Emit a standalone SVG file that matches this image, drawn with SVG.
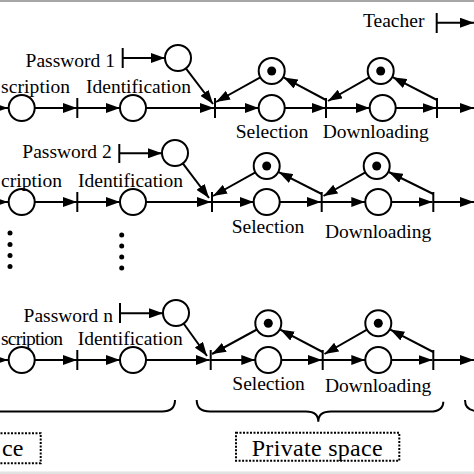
<svg xmlns="http://www.w3.org/2000/svg" width="474" height="474" viewBox="0 0 474 474">
<style>
.ln{stroke:#000;stroke-width:2;fill:none}
.ar{stroke:#000;stroke-width:2;fill:none;marker-end:url(#ah)}
.pl{fill:#fff;stroke:#000;stroke-width:2}
.tr{stroke:#000;stroke-width:2}
.tok{fill:#000}
.t{font-family:"Liberation Serif","Times New Roman","DejaVu Serif",serif;font-size:19.5px;fill:#000}
.big{font-family:"Liberation Serif","Times New Roman","DejaVu Serif",serif;font-size:24px;fill:#000}
.box{fill:none;stroke:#000;stroke-width:2;stroke-dasharray:2 1.5}
</style>
<defs>
<marker id="ah" markerWidth="14" markerHeight="10" refX="14" refY="5" orient="auto" markerUnits="userSpaceOnUse"><path d="M0,0 L14,5 L0,10 z" fill="#000"/></marker>
</defs>
<rect width="474" height="474" fill="#fff"/>
<rect x="0" y="0" width="474" height="2" fill="#a6a6a6"/>
<rect x="0" y="471.5" width="474" height="2.5" fill="#e2e2e2"/>

<g id="connectors">
<path class="ar" d="M436.7,22.7 L474,22.7"/>
<path class="ar" d="M-6,108 L8,108"/>
<path class="ar" d="M34.7,108 L77,108"/>
<path class="ar" d="M77.3,108 L120,108"/>
<path class="ar" d="M146,108 L214,108"/>
<path class="ar" d="M215,108 L258.7,108"/>
<path class="ar" d="M284.7,108 L326,108"/>
<path class="ar" d="M326,108 L369.7,108"/>
<path class="ar" d="M395.7,108 L436.5,108"/>
<path class="ar" d="M437,108 L474,108"/>
<path class="ar" d="M122.7,58 L165,58"/>
<path class="ar" d="M185.9,68.3 L213,104"/>
<path class="ar" d="M260.3,77.3 L216,102"/>
<path class="ar" d="M326,100 L283.6,77.4"/>
<path class="ar" d="M369.4,77.4 L328,101"/>
<path class="ar" d="M437,100 L392.7,77.2"/>
<path class="ar" d="M-6,202 L8,202"/>
<path class="ar" d="M34.7,202 L77,202"/>
<path class="ar" d="M77.3,202 L120,202"/>
<path class="ar" d="M146,202 L211,202"/>
<path class="ar" d="M212,202 L253.7,202"/>
<path class="ar" d="M279.7,202 L321,202"/>
<path class="ar" d="M321.7,202 L365.3,202"/>
<path class="ar" d="M391.3,202 L432.5,202"/>
<path class="ar" d="M433.3,202 L474,202"/>
<path class="ar" d="M119.3,153.3 L162,153.3"/>
<path class="ar" d="M182.8,163.4 L209,198"/>
<path class="ar" d="M255.4,172.3 L213,196"/>
<path class="ar" d="M321.7,194 L278.7,172.1"/>
<path class="ar" d="M365.4,172.4 L323.5,196"/>
<path class="ar" d="M433.3,194 L388.8,172"/>
<path class="ar" d="M-6,360 L8,360"/>
<path class="ar" d="M34.7,360 L77,360"/>
<path class="ar" d="M77.3,360 L120,360"/>
<path class="ar" d="M146,360 L209.7,360"/>
<path class="ar" d="M210.7,360 L255.3,360"/>
<path class="ar" d="M281.3,360 L322,360"/>
<path class="ar" d="M322.7,360 L365.3,360"/>
<path class="ar" d="M391.3,360 L432.5,360"/>
<path class="ar" d="M433.3,360 L474,360"/>
<path class="ar" d="M120,313.3 L163,313.3"/>
<path class="ar" d="M183.6,323.5 L207,356"/>
<path class="ar" d="M256.9,329.5 L212,354"/>
<path class="ar" d="M322.7,352 L280.2,329.6"/>
<path class="ar" d="M367,329.7 L324.5,354"/>
<path class="ar" d="M433.3,352 L390.3,329.6"/>
</g>

<g id="teacher"><line class="tr" x1="436.7" y1="13" x2="436.7" y2="33"/><text class="t" x="363" y="27">Teacher</text></g>

<g id="r1-A"><circle class="pl" cx="21.7" cy="108" r="13"/></g>
<g id="r1-t1"><line class="tr" x1="77.3" y1="98" x2="77.3" y2="118"/></g>
<g id="r1-B"><circle class="pl" cx="133" cy="108" r="13"/></g>
<g id="r1-t2"><line class="tr" x1="215" y1="98" x2="215" y2="118"/></g>
<g id="r1-C"><circle class="pl" cx="271.7" cy="108" r="13"/></g>
<g id="r1-t3"><line class="tr" x1="326" y1="98" x2="326" y2="118"/></g>
<g id="r1-D"><circle class="pl" cx="382.7" cy="108" r="13"/></g>
<g id="r1-t4"><line class="tr" x1="437" y1="98" x2="437" y2="118"/></g>
<g id="r1-E"><circle class="pl" cx="271.7" cy="71" r="13"/><circle class="tok" cx="271.7" cy="71" r="4.5"/></g>
<g id="r1-F"><circle class="pl" cx="380.7" cy="71" r="13"/><circle class="tok" cx="380.7" cy="71" r="4.5"/></g>
<g id="r1-P"><circle class="pl" cx="178" cy="58" r="13"/></g>
<g id="r1-tp"><line class="tr" x1="122.7" y1="48" x2="122.7" y2="68"/></g>
<g id="r1-labels">
<text class="t" x="115" y="67" text-anchor="end">Password 1</text>
<text class="t" x="1" y="93" textLength="69">scription</text>
<text class="t" x="86" y="93">Identification</text>
<text class="t" x="235.7" y="138">Selection</text>
<text class="t" x="322.7" y="138">Downloading</text>
</g>

<g id="r2-A"><circle class="pl" cx="21.7" cy="202" r="13"/></g>
<g id="r2-t1"><line class="tr" x1="77.3" y1="192" x2="77.3" y2="212"/></g>
<g id="r2-B"><circle class="pl" cx="133" cy="202" r="13"/></g>
<g id="r2-t2"><line class="tr" x1="212" y1="192" x2="212" y2="212"/></g>
<g id="r2-C"><circle class="pl" cx="266.7" cy="202" r="13"/></g>
<g id="r2-t3"><line class="tr" x1="321.7" y1="192" x2="321.7" y2="212"/></g>
<g id="r2-D"><circle class="pl" cx="378.3" cy="202" r="13"/></g>
<g id="r2-t4"><line class="tr" x1="433.3" y1="192" x2="433.3" y2="212"/></g>
<g id="r2-E"><circle class="pl" cx="266.7" cy="166" r="13"/><circle class="tok" cx="266.7" cy="166" r="4.5"/></g>
<g id="r2-F"><circle class="pl" cx="376.7" cy="166" r="13"/><circle class="tok" cx="376.7" cy="166" r="4.5"/></g>
<g id="r2-P"><circle class="pl" cx="175" cy="153" r="13"/></g>
<g id="r2-tp"><line class="tr" x1="119.3" y1="144" x2="119.3" y2="163"/></g>
<g id="r2-labels">
<text class="t" x="111.7" y="158" text-anchor="end">Password 2</text>
<text class="t" x="1" y="187" textLength="61">cription</text>
<text class="t" x="78" y="187">Identification</text>
<text class="t" x="231.7" y="233">Selection</text>
<text class="t" x="325" y="238">Downloading</text>
</g>

<g id="dots">
<circle class="tok" cx="10" cy="233" r="2.5"/><circle class="tok" cx="10" cy="244.5" r="2.5"/><circle class="tok" cx="10" cy="255.5" r="2.5"/><circle class="tok" cx="10" cy="266.5" r="2.5"/>
<circle class="tok" cx="121.7" cy="235" r="2.5"/><circle class="tok" cx="121.7" cy="246" r="2.5"/><circle class="tok" cx="121.7" cy="257" r="2.5"/><circle class="tok" cx="121.7" cy="268" r="2.5"/>
</g>

<g id="r3-A"><circle class="pl" cx="21.7" cy="360" r="13"/></g>
<g id="r3-t1"><line class="tr" x1="77.3" y1="350" x2="77.3" y2="370"/></g>
<g id="r3-B"><circle class="pl" cx="133" cy="360" r="13"/></g>
<g id="r3-t2"><line class="tr" x1="210.7" y1="350" x2="210.7" y2="370"/></g>
<g id="r3-C"><circle class="pl" cx="268.3" cy="360" r="13"/></g>
<g id="r3-t3"><line class="tr" x1="322.7" y1="350" x2="322.7" y2="370"/></g>
<g id="r3-D"><circle class="pl" cx="378.3" cy="360" r="13"/></g>
<g id="r3-t4"><line class="tr" x1="433.3" y1="350" x2="433.3" y2="370"/></g>
<g id="r3-E"><circle class="pl" cx="268.3" cy="323.3" r="13"/><circle class="tok" cx="268.3" cy="323.3" r="4.5"/></g>
<g id="r3-F"><circle class="pl" cx="378.3" cy="323.3" r="13"/><circle class="tok" cx="378.3" cy="323.3" r="4.5"/></g>
<g id="r3-P"><circle class="pl" cx="176" cy="313" r="13"/></g>
<g id="r3-tp"><line class="tr" x1="120" y1="303" x2="120" y2="323"/></g>
<g id="r3-labels">
<text class="t" x="113" y="322" text-anchor="end">Password n</text>
<text class="t" x="1" y="345" textLength="62">scription</text>
<text class="t" x="77.7" y="345">Identification</text>
<text class="t" x="232.3" y="390">Selection</text>
<text class="t" x="325" y="391.7">Downloading</text>
</g>

<g id="braces">
<path class="ln" d="M-5,411.5 H162 Q175,411.5 175,400"/>
<path class="ln" d="M196.7,400 Q196.7,411.5 210,411.5 H306 Q318.3,411.5 318.3,421.7 Q318.3,411.5 331,411.5 H430 Q443.3,411.5 443.3,401.7"/>
<path class="ln" d="M465,400 Q465,411 478,411"/>
</g>

<g id="public-space"><rect class="box" x="-10" y="433.3" width="50.7" height="30"/><text class="big" x="23.3" y="456" text-anchor="end">ce</text></g>
<g id="private-space"><rect class="box" x="236" y="432.7" width="163.3" height="28"/><text class="big" x="251.7" y="455.7" textLength="131">Private space</text></g>
</svg>
